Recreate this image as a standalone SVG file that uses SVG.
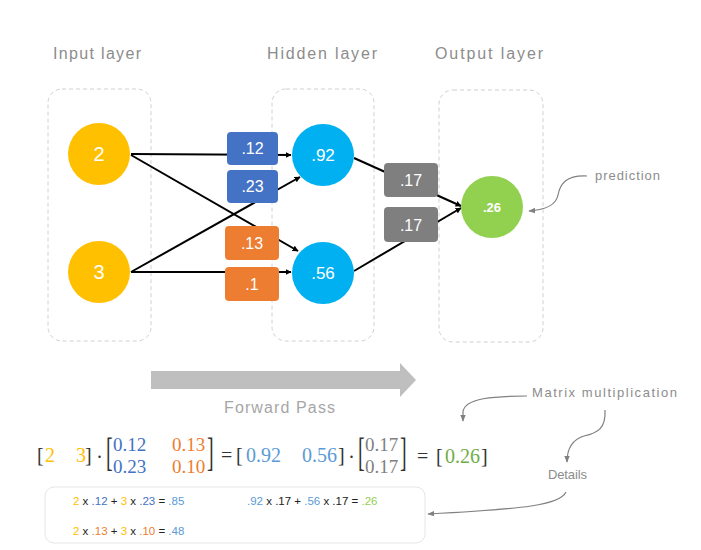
<svg xmlns="http://www.w3.org/2000/svg" width="701" height="550" viewBox="0 0 701 550">
<defs>
<marker id="ah" viewBox="0 0 10 10" refX="9" refY="5" markerWidth="6" markerHeight="6" orient="auto" markerUnits="userSpaceOnUse"><path d="M0,0 L10,5 L0,10 z" fill="#000"/></marker>
<marker id="ahg" viewBox="0 0 10 10" refX="9" refY="5" markerWidth="7" markerHeight="7" orient="auto" markerUnits="userSpaceOnUse"><path d="M0,1 L10,5 L0,9 z" fill="#808080"/></marker>
<style>
.layer{fill:none;stroke:#d0d0d0;stroke-width:1;stroke-dasharray:4 3}
.hand{font-family:"Liberation Sans",sans-serif;fill:#8c8c8c}
.nt{font-family:"Liberation Sans",sans-serif;fill:#fff;text-anchor:middle}
.wt{font-family:"Liberation Sans",sans-serif;fill:#fff;text-anchor:middle;font-size:16px}
.conn{stroke:#000;stroke-width:2;fill:none}
.ann{stroke:#808080;stroke-width:1.2;fill:none}
.eq{font-family:"Liberation Serif",serif;font-size:20px;fill:#333}
.mx{font-family:"Liberation Serif",serif;font-size:19px}
.dt{font-family:"Liberation Sans",sans-serif;font-size:11.5px;fill:#222}
.yl{fill:#FFC000}.bl{fill:#4472C4}.or{fill:#ED7D31}.lb{fill:#5B9BD5}.gy{fill:#7F7F7F}.gn{fill:#70AD47}.lg{fill:#92D050}
</style>
</defs>
<rect width="701" height="550" fill="#fff"/>

<g id="layers">
<rect class="layer" x="48" y="89" width="103" height="252" rx="14"/>
<rect class="layer" x="272" y="89" width="102" height="252" rx="14"/>
<rect class="layer" x="439" y="90" width="104" height="252" rx="14"/>
<text class="hand" x="53" y="59" font-size="16" textLength="88">Input layer</text>
<text class="hand" x="267" y="59" font-size="16" textLength="110">Hidden layer</text>
<text class="hand" x="435" y="59" font-size="16" textLength="108">Output layer</text>
</g>

<g id="connectors">
<line class="conn" x1="131" y1="154" x2="291" y2="155" marker-end="url(#ah)"/>
<line class="conn" x1="131" y1="155" x2="298" y2="251" marker-end="url(#ah)"/>
<line class="conn" x1="131" y1="272" x2="300" y2="177" marker-end="url(#ah)"/>
<line class="conn" x1="131" y1="272" x2="291" y2="272" marker-end="url(#ah)"/>
<line class="conn" x1="354" y1="158" x2="461" y2="206" marker-end="url(#ah)"/>
<line class="conn" x1="354" y1="271" x2="461" y2="208" marker-end="url(#ah)"/>
</g>

<g id="w12"><rect x="227" y="132" width="51" height="33" rx="4" fill="#4472C4"/><text class="wt" x="252.5" y="154">.12</text></g>
<g id="w23"><rect x="227" y="170" width="51" height="33" rx="4" fill="#4472C4"/><text class="wt" x="252.5" y="192">.23</text></g>
<g id="w13"><rect x="225" y="226" width="54" height="34" rx="4" fill="#ED7D31"/><text class="wt" x="252" y="249">.13</text></g>
<g id="w1"><rect x="225" y="267" width="54" height="34" rx="4" fill="#ED7D31"/><text class="wt" x="252" y="290">.1</text></g>
<g id="w17a"><rect x="384" y="163" width="54" height="34" rx="4" fill="#7F7F7F"/><text class="wt" x="411" y="186">.17</text></g>
<g id="w17b"><rect x="384" y="207" width="54" height="35" rx="4" fill="#7F7F7F"/><text class="wt" x="411" y="231">.17</text></g>

<g id="in2"><circle cx="99" cy="154" r="31" fill="#FFC000"/><text class="nt" x="99" y="161" font-size="20">2</text></g>
<g id="in3"><circle cx="99" cy="272" r="31" fill="#FFC000"/><text class="nt" x="99" y="279" font-size="20">3</text></g>
<g id="h92"><circle cx="323" cy="155" r="31" fill="#00B0F0"/><text class="nt" x="323" y="161" font-size="17">.92</text></g>
<g id="h56"><circle cx="323" cy="273" r="31" fill="#00B0F0"/><text class="nt" x="323" y="279" font-size="17">.56</text></g>
<g id="out26"><circle cx="492" cy="207" r="31" fill="#92D050"/><text class="nt" x="492" y="212" font-size="13" font-weight="bold">.26</text></g>

<g id="forward">
<path d="M151,371 L400,371 L400,363 L416,380 L400,397 L400,389 L151,389 z" fill="#BFBFBF"/>
<text class="hand" x="224" y="413" font-size="16" style="fill:#a6a6a6" textLength="111">Forward Pass</text>
</g>

<g id="annotations">
<text class="hand" x="595" y="180" font-size="13" textLength="65">prediction</text>
<path class="ann" d="M587,176 C566,175 560,184 558,195 C556,206 543,210 529,211" marker-end="url(#ahg)"/>
<text class="hand" x="532" y="397" font-size="13" textLength="145">Matrix multiplication</text>
<path class="ann" d="M527,396 C495,396 464,398 463,412 L463,421" marker-end="url(#ahg)"/>
<path class="ann" d="M605,410 C606,428 598,433 584,436 C571,440 567,450 567,462" marker-end="url(#ahg)"/>
<text class="hand" x="548" y="479" font-size="13" textLength="39">Details</text>
<path class="ann" d="M566,492 C560,505 525,509 428,514" marker-end="url(#ahg)"/>
</g>

<g id="equation">
<text class="eq" x="37" y="462">[</text>
<text class="eq yl" x="45" y="462">2</text>
<text class="eq yl" x="76" y="462">3</text>
<text class="eq" x="85" y="462">]</text>
<text class="eq" x="97" y="458">.</text>
<text class="eq" transform="translate(106,466) scale(1,2.05)" font-size="21">[</text>
<text class="mx bl" x="113" y="451">0.12</text>
<text class="mx or" x="172" y="451">0.13</text>
<text class="mx bl" x="113" y="473">0.23</text>
<text class="mx or" x="172" y="473">0.10</text>
<text class="eq" transform="translate(207,466) scale(1,2.05)" font-size="21">]</text>
<text class="eq" x="221" y="462" font-size="18">=</text>
<text class="eq" x="236" y="462">[</text>
<text class="eq lb" x="246" y="462">0.92</text>
<text class="eq lb" x="302" y="462">0.56</text>
<text class="eq" x="338" y="462">]</text>
<text class="eq" x="349" y="458">.</text>
<text class="eq" transform="translate(358,466) scale(1,2.05)" font-size="21">[</text>
<text class="mx gy" x="365" y="451">0.17</text>
<text class="mx gy" x="365" y="473">0.17</text>
<text class="eq" transform="translate(400,466) scale(1,2.05)" font-size="21">]</text>
<text class="eq" x="417" y="463" font-size="24">=</text>
<text class="eq" x="436" y="463" font-size="22">[</text>
<text class="eq gn" x="445" y="463" font-size="21">0.26</text>
<text class="eq" x="481" y="463" font-size="22">]</text>
</g>

<g id="details">
<rect x="45" y="487" width="380" height="56" rx="9" fill="#fff" stroke="#e6e6e6"/>
<text class="dt" x="73" y="505"><tspan class="yl">2</tspan> x <tspan class="bl">.12</tspan> + <tspan class="yl">3</tspan> x <tspan class="bl">.23</tspan> = <tspan class="lb">.85</tspan></text>
<text class="dt" x="73" y="535"><tspan class="yl">2</tspan> x <tspan class="or">.13</tspan> + <tspan class="yl">3</tspan> x <tspan class="or">.10</tspan> = <tspan class="lb">.48</tspan></text>
<text class="dt" x="247" y="505"><tspan class="lb">.92</tspan> x .17 + <tspan class="lb">.56</tspan> x .17 = <tspan class="lg">.26</tspan></text>
</g>
</svg>
